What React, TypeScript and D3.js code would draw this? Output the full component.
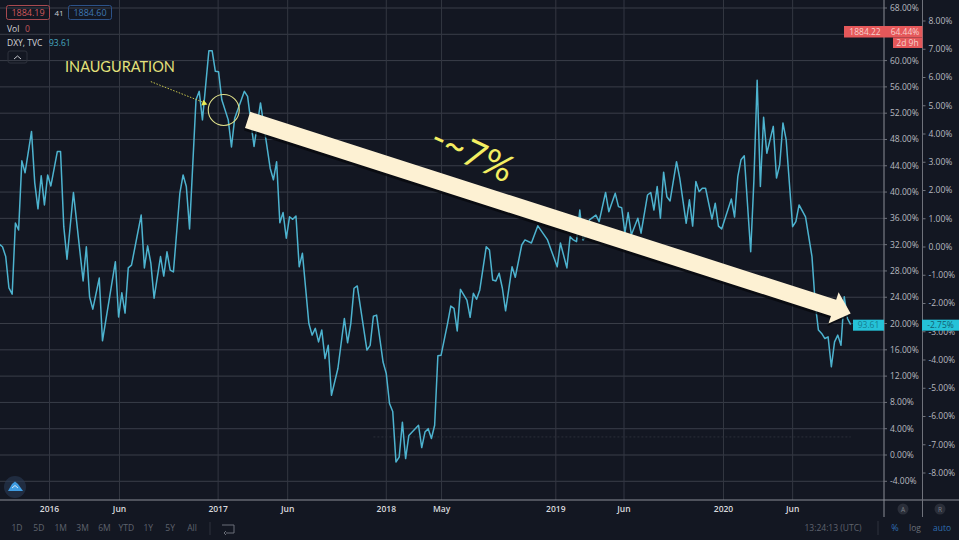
import React, { useRef, useEffect } from "react"
import * as d3 from "d3"

// Weeks since the first bar (2015-09-21), only the turning points of the line
const weeks = [
  -1, 0, 1, 2, 3, 4, 5, 6, 7, 9, 10, 11, 12, 13, 14, 15, 17, 18, 19, 20, 22, 25, 26, 27, 28, 30, 31, 35, 36, 37, 38, 39, 40,
  43, 44, 45, 46, 47, 49, 50, 51, 52, 53, 55, 56, 57, 58, 60, 61, 62, 64, 65, 66, 67, 68, 70, 71, 72, 75, 76, 78, 80, 83, 84,
  85, 86, 87, 88, 89, 90, 91, 92, 93, 95, 96, 97, 98, 99, 100, 101, 102, 104, 106, 107, 108, 109, 110, 113, 114, 115, 116,
  118, 119, 120, 121, 122, 123, 124, 125, 126, 129, 130, 131, 132, 133, 134, 135, 136, 138, 139, 140, 141, 142, 144, 145,
  146, 147, 148, 150, 151, 152, 153, 154, 155, 156, 158, 159, 161, 162, 164, 166, 169, 172, 173, 175, 176, 177, 178, 179,
  180, 181, 182, 184, 185, 187, 188, 190, 191, 192, 193, 194, 195, 197, 198, 200, 201, 202, 203, 204, 205, 206, 207, 209,
  210, 212, 213, 214, 215, 216, 217, 218, 220, 221, 222, 223, 226, 227, 228, 229, 230, 232, 233, 234, 235, 236, 237, 239,
  240, 241, 242, 243, 245, 246, 247, 249, 251, 252, 253, 254, 255, 256, 257, 258, 259, 260, 261, 262, 263,
]

// DXY change in percent at those weeks, right hand scale
const dxyChange = [
  0.1, 0.01, -0.34, -1.45, -1.67, 0.85, 0.6, 3.05, 2.63, 4.09, 2.27, 1.35, 2.52, 1.49, 2.55, 2.16, 3.38, 3.38, 0.72, -0.43, 1.93, -1.2, 0.01, -1.76, -2.2, -1.1, -3.32, -0.52, -2.48, -1.62, -2.34, -0.74, -0.64,
  1.13, -0.74, 0.04, -0.57, -1.81, -0.34, -1.03, -0.17, -0.82, -0.88, 1.91, 2.55, 2.14, 0.64, 5.21, 5.51, 4.5, 6.95, 6.95, 6.22, 6.2, 5.21, 4.5, 3.54, 4.56, 5.51, 5.33, 3.56, 5.1, 2.79, 2.38,
  3.02, 0.86, 1.22, 0.31, 1.07, 0.98, 1.1, -0.7, -0.22, -2.71, -3.12, -2.88, -3.36, -2.94, -3.95, -3.48, -5.25, -4.3, -2.53, -3.39, -2.71, -1.46, -1.38, -3.65, -3.48, -2.45, -2.41,
  -4.07, -4.48, -5.54, -5.82, -7.61, -7.44, -6.2, -7.49, -6.67, -6.31, -7.1, -6.55, -6.43, -6.78, -6.31, -3.85, -3.83, -2.71, -2.09, -2.17, -2.97, -1.5, -1.88, -2.49,
  -1.64, -1.85, -1.52, 0.01, -0.11, -1.17, -1.2, -0.93, -1.46, -2.26, -0.7, -1.07, 0.07, 0.25, 0.14, 0.75, 0.25, -0.7, 0.14, -0.74, 0.36, 0.25, 0.19, 1.31,
  0.25, 0.4, 0.96, 1.13, 0.9, 1.93, 1.25, 1.9, 1.43, 1.39, 0.5, 1.22, 0.43, 1.02, 0.49, 1.84, 1.93, 1.31, 2.14, 1.02, 2.65, 1.78, 1.63, 3.02,
  2.44, 0.84, 1.67, 0.74, 2.32, 1.96, 2.08, 2.08, 0.99, 1.55, 0.74, 0.64, 1.7, 1.06, 2.49, 3.09, 3.23, -0.17, 2.38, 5.9, 2.14, 4.59, 3.32, 4.27,
  2.44, 2.91, 4.39, 3.79, 0.72, 0.9, 1.49, 1.07, -0.34, -1.99, -2.94, -3.06, -3.24, -3.18, -4.24, -3.36, -3.12, -3.48, -1.76, -2.53, -2.75,
]

const leftTicks = [68, 64, 60, 56, 52, 48, 44, 40, 36, 32, 28, 24, 20, 16, 12, 8, 4, 0, -4]
const rightTicks = [8, 7, 6, 5, 4, 3, 2, 1, 0, -1, -2, -3, -4, -5, -6, -7, -8]
const timeTicks = ["2016-01-01", "2016-06-01", "2017-01-01", "2017-06-01", "2018-01-01", "2018-05-01", "2019-01-04", "2019-06-01", "2020-01-03", "2020-06-01"]
const timeLabels = ["2016", "Jun", "2017", "Jun", "2018", "May", "2019", "Jun", "2020", "Jun"]
const ranges = ["1D", "5D", "1M", "3M", "6M", "YTD", "1Y", "5Y", "All"]

const width = 959
const height = 540
const plotRight = 884
const axisRight = 922.5
const plotBottom = 500

const firstBar = new Date("2015-09-21T00:00:00Z")
const weekMs = 7 * 24 * 3600 * 1000
const toDate = (w: number) => new Date(firstBar.getTime() + w * weekMs)

const App: React.FC = () => {
  const svgRef = useRef<SVGSVGElement | null>(null)

  useEffect(() => {
    const svg = d3.select(svgRef.current)
    svg.selectAll("*").remove()
    svg.attr("viewBox", [0, 0, width, height] as any)
      .style("font-family", "'Open Sans', sans-serif")

    // SCALES
    const x = d3.scaleUtc()
      .domain([toDate(0), toDate(263)])
      .range([2.5, 2.5 + 3.225 * 263])
    const yLeft = d3.scaleLinear().domain([68, 0]).range([8, 455])
    const yRight = d3.scaleLinear().domain([8, -8]).range([21, 473])

    svg.append("rect").attr("width", width).attr("height", height).attr("fill", "#131722")

    // GRID
    const grid = svg.append("g")
    grid.selectAll("line.h").data(leftTicks).join("line")
      .attr("x1", 0).attr("x2", plotRight)
      .attr("y1", d => yLeft(d)).attr("y2", d => yLeft(d))
      .attr("stroke", "#3a3e49").attr("stroke-width", 1)
    grid.selectAll("line.v").data(timeTicks).join("line")
      .attr("x1", d => x(new Date(d))).attr("x2", d => x(new Date(d)))
      .attr("y1", 0).attr("y2", plotBottom)
      .attr("stroke", "#333742").attr("stroke-width", 1)
    // faint baseline of the gold series
    grid.append("line")
      .attr("x1", x(toDate(115))).attr("x2", x(toDate(263)))
      .attr("y1", yLeft(2.75)).attr("y2", yLeft(2.75))
      .attr("stroke", "#2b2f3a").attr("stroke-dasharray", "2 2")

    // DXY LINE
    const line = d3.line<number>()
      .x((_d, i) => x(toDate(weeks[i])))
      .y(d => yRight(d))
    svg.append("path")
      .attr("d", line(dxyChange))
      .attr("fill", "none")
      .attr("stroke", "#4db3cf")
      .attr("stroke-width", 1.5)
      .attr("stroke-linejoin", "round")

    // AXES
    svg.append("line").attr("x1", 0).attr("x2", width).attr("y1", plotBottom).attr("y2", plotBottom).attr("stroke", "#8b8e96")
    svg.append("line").attr("x1", plotRight).attr("x2", plotRight).attr("y1", 0).attr("y2", 517).attr("stroke", "#8b8e96")
    svg.append("line").attr("x1", axisRight).attr("x2", axisRight).attr("y1", 0).attr("y2", 517).attr("stroke", "#6f727b")
    svg.append("rect").attr("x", 0).attr("y", 517).attr("width", width).attr("height", 23).attr("fill", "#131722")

    const leftAxis = svg.append("g").selectAll("g").data(leftTicks).join("g")
      .attr("transform", d => `translate(${plotRight},${yLeft(d)})`)
    leftAxis.append("line").attr("x2", 3).attr("stroke", "#6f727b")
    leftAxis.append("text").attr("x", 6).attr("dy", "0.35em").attr("font-size", 8.5).attr("fill", "#b8bac0")
      .text(d => `${d.toFixed(2)}%`)

    const rightAxis = svg.append("g").selectAll("g").data(rightTicks).join("g")
      .attr("transform", d => `translate(${axisRight},${yRight(d)})`)
    rightAxis.append("line").attr("x2", 3).attr("stroke", "#6f727b")
    rightAxis.append("text").attr("x", 6).attr("dy", "0.35em").attr("font-size", 8.5).attr("fill", "#b8bac0")
      .text(d => `${d.toFixed(2)}%`)

    svg.append("g").selectAll("text").data(timeTicks).join("text")
      .attr("x", d => x(new Date(d)))
      .attr("y", 512)
      .attr("text-anchor", "middle")
      .attr("font-size", 8.5)
      .attr("font-weight", 600)
      .attr("fill", "#d9dade")
      .text((_d, i) => timeLabels[i])

    // PRICE LABELS
    const label = (lx: number, ly: number, w: number, h: number, fill: string) =>
      svg.append("rect").attr("x", lx).attr("y", ly).attr("width", w).attr("height", h).attr("fill", fill)
    const labelText = (lx: number, ly: number, txt: string, fill: string, anchor = "middle", size = 8.5) =>
      svg.append("text").attr("x", lx).attr("y", ly).attr("text-anchor", anchor).attr("font-size", size).attr("fill", fill).text(txt)

    label(844, 26, 78.5, 11.5, "#e5585a")
    label(893, 37.5, 29.5, 10.5, "#e5585a")
    labelText(865, 35, "1884.22", "#f8d0cc")
    labelText(905, 35, "64.44%", "#f8d0cc")
    labelText(907.5, 46, "2d 9h", "#f8d0cc")

    const lastY = yRight(dxyChange[dxyChange.length - 1])
    label(853, lastY - 5, 31, 11, "#25c2d8")
    label(922, lastY - 5, 37, 11, "#25c2d8")
    labelText(868.5, lastY + 3, "93.61", "#157f92")
    labelText(940.5, lastY + 3, "-2.75%", "#125f70")

    // ANNOTATIONS
    const yellow = "#e4e27c"
    svg.append("text").attr("x", 65).attr("y", 72).attr("font-size", 14.5).attr("fill", yellow)
      .attr("font-family", "Lato, sans-serif").text("INAUGURATION")
    svg.append("line")
      .attr("x1", x(toDate(46))).attr("y1", yLeft(56.8))
      .attr("x2", x(toDate(62))).attr("y2", yLeft(53.7))
      .attr("stroke", "#c9c64c").attr("stroke-dasharray", "1.5 1.5")
    svg.append("path")
      .attr("d", d3.symbol(d3.symbolTriangle, 16)())
      .attr("transform", `translate(${x(toDate(62.5))},${yLeft(53.5)}) rotate(110)`)
      .attr("fill", "#e9ee55")
    svg.append("circle")
      .attr("cx", x(toDate(68.6))).attr("cy", yRight(4.85)).attr("r", 15.5)
      .attr("fill", "none").attr("stroke", "#dfe08a").attr("stroke-width", 1.1)

    // big trend arrow, from the inauguration level to the last bar
    const from: [number, number] = [x(toDate(76)), yRight(4.5)]
    const to: [number, number] = [x(toDate(263)), yRight(-2.35)]
    const len = Math.hypot(to[0] - from[0], to[1] - from[1])
    const ux = (to[0] - from[0]) / len
    const uy = (to[1] - from[1]) / len
    const at = (along: number, across: number): [number, number] =>
      [from[0] + ux * along - uy * across, from[1] + uy * along + ux * across]
    const shaft = 8.5
    const head = 16.5
    const headLen = 18
    const arrow = d3.line()([
      at(0, -shaft), at(len - headLen, -shaft), at(len - headLen, -head), at(len, 0),
      at(len - headLen, head), at(len - headLen, shaft), at(0, shaft),
    ]) + "Z"
    svg.append("path").attr("d", arrow).attr("fill", "#07080c").attr("opacity", 0.75).attr("transform", "translate(-1,2.5)")
    svg.append("path").attr("d", arrow).attr("fill", "#fdf1d3")

    svg.append("text")
      .attr("transform", "translate(467,165) rotate(25)")
      .attr("text-anchor", "middle")
      .attr("font-size", 37)
      .attr("font-family", "Lato, sans-serif")
      .attr("fill", "#f3ee62")
      .text("-~7%")

    // LEGEND
    const box = (bx: number, stroke: string) =>
      svg.append("rect").attr("x", bx).attr("y", 5.5).attr("width", 43).attr("height", 14).attr("rx", 2)
        .attr("fill", "none").attr("stroke", stroke)
    box(6.5, "#a84a50")
    box(68.5, "#2c5288")
    labelText(28, 15.5, "1884.19", "#d0575c", "middle", 9)
    labelText(59, 15.5, "41", "#c9cad0", "middle", 8)
    labelText(90, 15.5, "1884.60", "#3f78b4", "middle", 9)
    labelText(7, 32, "Vol", "#d3d4d9", "start", 8.5)
    labelText(25, 32, "0", "#c2575c", "start", 8.5)
    labelText(7, 46, "DXY, TVC", "#d3d4d9", "start", 8.5)
    labelText(49, 46, "93.61", "#46a9c0", "start", 8.5)
    svg.append("rect").attr("x", 8).attr("y", 51).attr("width", 19).attr("height", 12).attr("rx", 2)
      .attr("fill", "none").attr("stroke", "#2e323d")
    svg.append("path").attr("d", d3.line()([[14, 59], [17.5, 56], [21, 59]])).attr("fill", "none").attr("stroke", "#c4c6cc")

    // logo
    svg.append("circle").attr("cx", 15).attr("cy", 487).attr("r", 11).attr("fill", "#2a3a55").attr("opacity", 0.6)
    svg.append("path").attr("d", "M8 491 L12 484 L15 481.5 L18 484 L23 491 Z").attr("fill", "#3f9be0")
    svg.append("path").attr("d", d3.line()([[12, 488], [15, 485.5], [18, 488]])).attr("fill", "none").attr("stroke", "#cfe6fa")

    // axis corner buttons
    const corners: [number, string][] = [[903, "A"], [940, "R"]]
    corners.forEach(([cx, txt]) => {
      svg.append("circle").attr("cx", cx).attr("cy", 509).attr("r", 5.5).attr("fill", "#2a2e39")
      labelText(cx, 512, txt, "#7b7e87", "middle", 6.5)
    })

    // TOOLBAR
    const rangeX = d3.scalePoint<string>().domain(ranges).range([17, 192])
    svg.append("g").selectAll("text").data(ranges).join("text")
      .attr("x", d => rangeX(d) as number)
      .attr("y", 531)
      .attr("text-anchor", "middle")
      .attr("font-size", 8.5)
      .attr("fill", "#5f636e")
      .text(d => d)
    svg.append("line").attr("x1", 210).attr("x2", 210).attr("y1", 522).attr("y2", 535).attr("stroke", "#2e323d")
    svg.append("path").attr("d", "M222 525 H234 V533 H226 M226 531 L224 533 L226 535").attr("fill", "none").attr("stroke", "#6a6e78")
    labelText(833, 531, "13:24:13 (UTC)", "#5f636e", "middle", 8.5)
    svg.append("line").attr("x1", 878).attr("x2", 878).attr("y1", 521).attr("y2", 535).attr("stroke", "#2e323d")
    labelText(895, 531, "%", "#2f6db0", "middle", 9)
    labelText(915, 531, "log", "#6a6e78", "middle", 8.5)
    labelText(942, 531, "auto", "#2f6db0", "middle", 8.5)
  }, [])

  return (
    <svg ref={svgRef} width={width} height={height} style={{ position: "absolute", left: 0, top: 0, display: "block" }}></svg>
  )
}

export default App
